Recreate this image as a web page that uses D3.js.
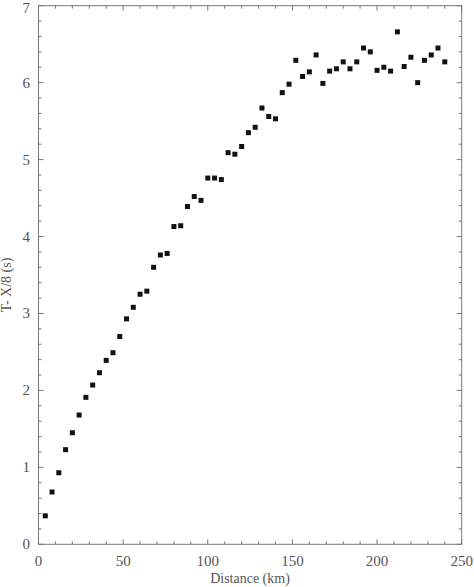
<!DOCTYPE html>
<html>
<head>
<meta charset="UTF-8">
<script src="https://d3js.org/d3.v7.min.js"></script>
<style>
body{ margin:0; background:white; }
text{ font-family: "Liberation Serif", serif; fill:#555; }
</style>
</head>
<body>
<svg width="474" height="587"></svg>
<script>
// distance (km), every 4 km
const distance = d3.range(1, 61).map(i => i * 4)
// reduced travel time T - X/8 (s)
const reducedTime = [
  0.37, 0.68, 0.93, 1.23, 1.45, 1.68, 1.91, 2.07, 2.23, 2.39,
  2.49, 2.70, 2.93, 3.08, 3.25, 3.29, 3.60, 3.76, 3.78, 4.13,
  4.14, 4.39, 4.52, 4.47, 4.76, 4.76, 4.74, 5.09, 5.07, 5.17,
  5.35, 5.42, 5.67, 5.56, 5.53, 5.87, 5.98, 6.29, 6.08, 6.14,
  6.36, 5.99, 6.15, 6.18, 6.27, 6.18, 6.27, 6.45, 6.40, 6.16,
  6.20, 6.15, 6.66, 6.21, 6.33, 6.00, 6.29, 6.36, 6.45, 6.27
]
const xTicks = [0, 50, 100, 150, 200, 250]
const yTicks = [0, 1, 2, 3, 4, 5, 6, 7]

const svg = d3.select("svg")
const mLeft = 38.5, mRight = 461.7, mTop = 5.7, mBottom = 544.3

const x = d3.scaleLinear().domain([0, 250]).range([mLeft, mRight])
const y = d3.scaleLinear().domain([0, 7]).range([mBottom, mTop])

const axisColor = "#777"

// frame
svg.append("rect")
  .attr("x", mLeft).attr("y", mTop)
  .attr("width", mRight - mLeft).attr("height", mBottom - mTop)
  .style("fill", "none").style("stroke", axisColor).style("stroke-width", 1)

// ticks, pointing inward on all four sides
const xMinor = d3.range(0, 251, 10)
const yMinor = d3.range(0, 7.01, 0.2)

const ticks = svg.append("g").style("stroke", axisColor).style("stroke-width", 1)

xMinor.forEach(function(v){
  let len = (v % 50 == 0) ? 5 : 3
  ticks.append("line").attr("x1", x(v)).attr("x2", x(v)).attr("y1", mBottom).attr("y2", mBottom - len)
  ticks.append("line").attr("x1", x(v)).attr("x2", x(v)).attr("y1", mTop).attr("y2", mTop + len)
})
yMinor.forEach(function(v){
  let major = Math.abs(v - Math.round(v)) < 1e-6
  let len = major ? 5 : 3
  ticks.append("line").attr("y1", y(v)).attr("y2", y(v)).attr("x1", mLeft).attr("x2", mLeft + len)
  ticks.append("line").attr("y1", y(v)).attr("y2", y(v)).attr("x1", mRight).attr("x2", mRight - len)
})

// tick labels
svg.selectAll(".xlab")
  .data(xTicks)
  .join("text")
  .attr("x", d => x(d))
  .attr("y", 566)
  .attr("text-anchor", "middle")
  .style("font-size", "15px")
  .text(d => d)

svg.selectAll(".ylab")
  .data(yTicks)
  .join("text")
  .attr("x", 30)
  .attr("y", d => Math.max(y(d) + 5, 13))
  .attr("text-anchor", "end")
  .style("font-size", "15px")
  .text(d => d)

// axis titles
svg.append("text")
  .attr("x", 250).attr("y", 583)
  .attr("text-anchor", "middle")
  .style("font-size", "14px")
  .text("Distance (km)")

svg.append("text")
  .attr("transform", "translate(11,285) rotate(-90)")
  .attr("text-anchor", "middle")
  .style("font-size", "14px")
  .text("T- X/8 (s)")

// data points
const s = 5
svg.selectAll(".pt")
  .data(distance.map((d, i) => ({d: d, t: reducedTime[i]})))
  .join("rect")
  .attr("x", p => x(p.d) - s / 2)
  .attr("y", p => y(p.t) - s / 2)
  .attr("width", s)
  .attr("height", s)
  .style("fill", "#111")
</script>
</body>
</html>
